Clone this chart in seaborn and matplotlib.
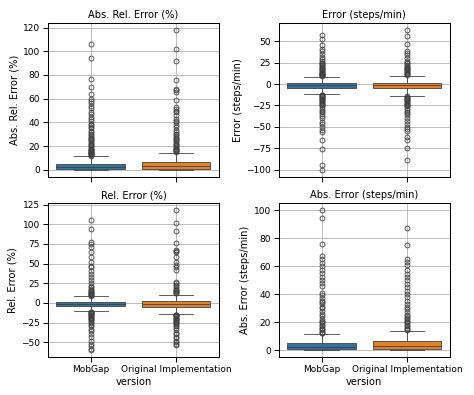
import numpy as np
import pandas as pd
import matplotlib
matplotlib.use("Agg")
import matplotlib.pyplot as plt
import seaborn as sns

versions = ["MobGap", "Original Implementation"]
metrics = ["Abs. Rel. Error (%)", "Error (steps/min)", "Rel. Error (%)", "Abs. Error (steps/min)"]

# five-number summaries [whisker low, Q1, median, Q3, whisker high]
abs_rel_mobgap_box = [0.0, 1.1, 2.6, 5.3, 11.4]
abs_rel_orig_box = [0.0, 1.1, 3.0, 6.7, 14.0]
err_mobgap_box = [-11.5, -4.3, -1.5, 1.0, 8.4]
err_orig_box = [-13.4, -4.6, -1.5, 1.6, 9.9]
rel_mobgap_box = [-10.6, -3.9, -1.0, 1.1, 8.4]
rel_orig_box = [-13.6, -4.7, -1.2, 2.0, 10.5]
abs_err_mobgap_box = [0.0, 0.6, 2.3, 5.0, 11.2]
abs_err_orig_box = [0.0, 1.0, 3.0, 6.2, 13.8]
# how many observations sit at each summary level
box_counts = [1, 150, 150, 150, 1]

# outliers
abs_rel_mobgap_out = [106, 94, 77, 70, 64, 60, 58, 56, 54, 52, 49, 47, 45, 43, 41, 39, 38, 36, 35, 33,
                      32, 30, 29, 28, 27, 26, 25, 24, 23, 22, 21, 20, 19, 18, 17.5, 17, 16.5, 16, 15.5,
                      15, 14.5, 14, 13.5, 13, 12.5, 12]
abs_rel_orig_out = [118, 102, 92, 76, 68, 67, 66, 59, 53, 51, 50, 49, 46, 43, 41, 40, 38, 36, 34, 32,
                    30, 29, 28, 27, 26, 25, 24, 23, 22, 21, 20, 19, 18, 17.5, 17, 16.5, 16, 15.5]
err_mobgap_out = [57, 52, 46, 41, 38, 35, 32, 29, 27, 25, 24, 23, 22, 21, 20, 19, 18, 17, 16, 15, 14,
                  13, 12.5, 12, 11.5, 11, 10.5, 10, 9.5,
                  -12.5, -13, -13.5, -14, -15, -16, -17, -18, -19, -20, -21, -22, -23, -24, -25, -27,
                  -29, -31, -33, -35, -37, -40, -44, -47, -50, -53, -56, -65, -76, -94, -100]
err_orig_out = [63, 56, 47, 38, 36, 34, 30, 27, 25, 24, 22, 21, 20, 19, 18, 17, 16, 15, 14, 13, 12,
                11.5, 11,
                -14.5, -15, -16, -17, -18, -19, -20, -21, -22, -23, -24, -25, -26, -28, -30, -32, -34,
                -36, -40, -43, -47, -50, -52, -55, -62, -65, -75, -88]
rel_mobgap_out = [106, 94, 78, 75, 71, 65, 58, 52, 47, 45, 40, 37, 33, 29, 25, 22, 20, 18, 16, 15, 14,
                  13, 12, 11, 10, 9.5, 9,
                  -11.5, -12, -12.5, -13, -14, -15, -16, -17, -18, -19, -20, -21, -22, -24, -26, -28,
                  -30, -33, -36, -40, -44, -48, -52, -55, -58, -60]
rel_orig_out = [118, 102, 92, 76, 67, 66, 65, 58, 52, 48, 45, 42, 27, 25, 23, 21, 19, 17, 16, 15, 14,
                13, 12.5,
                -15, -15.5, -16, -17, -18, -19, -20, -21, -22, -23, -24, -25, -26, -28, -30, -32, -35,
                -38, -40, -43, -45, -48, -50, -52, -53]
abs_err_mobgap_out = [100, 94, 76, 67, 65, 62, 60, 57, 55, 52, 50, 48, 46, 41, 39, 37, 35, 34, 33, 31,
                      30, 28, 26, 24, 22, 21, 20, 19, 18, 17, 16, 15, 14, 13, 12.5, 12]
abs_err_orig_out = [87, 75, 65, 63, 61, 57, 54, 52, 50, 47, 45, 42, 40, 38, 35, 33, 31, 29, 27, 25, 24,
                    23, 22, 21, 20, 19, 18, 17, 16, 15, 14.5]

panel_data = {
    "Abs. Rel. Error (%)": [(abs_rel_mobgap_box, abs_rel_mobgap_out), (abs_rel_orig_box, abs_rel_orig_out)],
    "Error (steps/min)": [(err_mobgap_box, err_mobgap_out), (err_orig_box, err_orig_out)],
    "Rel. Error (%)": [(rel_mobgap_box, rel_mobgap_out), (rel_orig_box, rel_orig_out)],
    "Abs. Error (steps/min)": [(abs_err_mobgap_box, abs_err_mobgap_out), (abs_err_orig_box, abs_err_orig_out)],
}


def make_frame(metric):
    rows = []
    for v, (box, out) in zip(versions, panel_data[metric]):
        vals = np.concatenate([np.repeat(box, box_counts), np.asarray(out, dtype=float)])
        rows.append(pd.DataFrame({"version": v, metric: vals}))
    return pd.concat(rows, ignore_index=True)


sns.set_context("notebook")
plt.rcParams["font.family"] = ["DejaVu Sans"]

DPI = 59
fig, axes = plt.subplots(2, 2, sharex=True, figsize=(474 / DPI, 395 / DPI), dpi=DPI)
for i, (ax, metric) in enumerate(zip(axes.flat, metrics)):
    df = make_frame(metric)
    sns.boxplot(data=df, x="version", y=metric, hue="version", ax=ax)
    ax.set_title(metric)
    ax.set_ylabel(metric)
    ax.grid(True)
    ax.set_axisbelow(True)
    if i < 2:
        ax.set_xlabel("")

fig.subplots_adjust(left=0.101, right=0.949, top=0.942, bottom=0.096, wspace=0.35, hspace=0.17)
fig.savefig("out.png", dpi=DPI)
